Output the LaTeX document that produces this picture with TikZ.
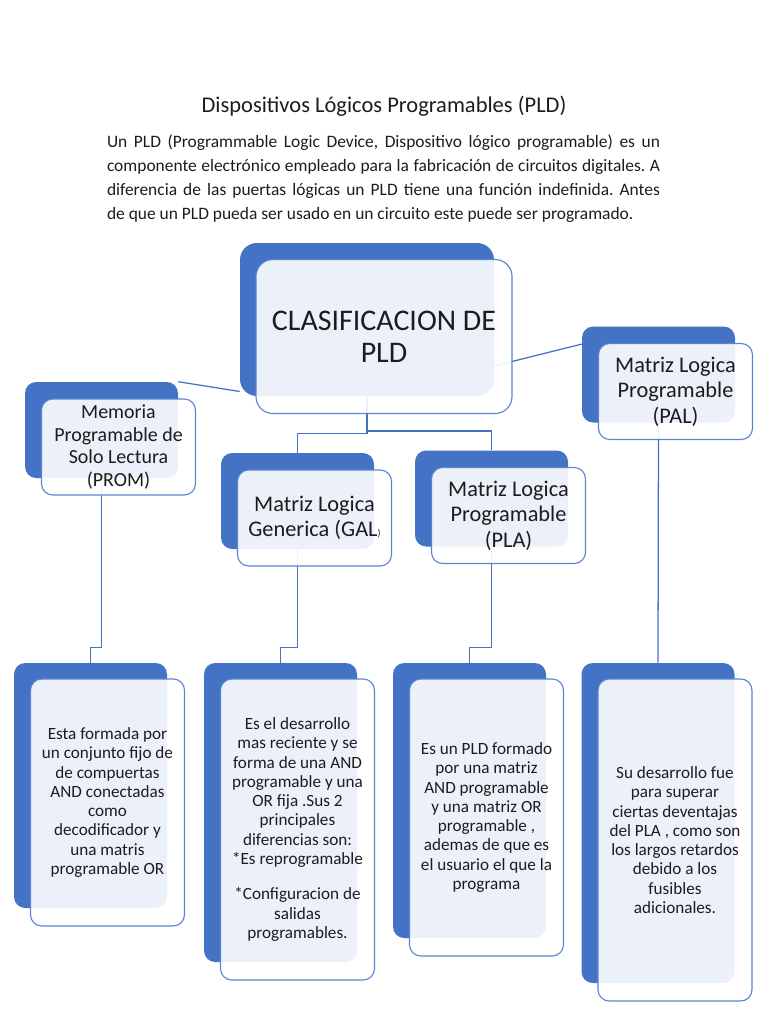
\documentclass[tikz,border=0pt]{standalone}
\usepackage{fontspec}
\setmainfont{Carlito}
\usepackage{xcolor}
\usetikzlibrary{backgrounds,positioning}
\definecolor{pldBlue}{HTML}{4472C4}
\definecolor{pldEdge}{HTML}{5A85D0}
\definecolor{pldInk}{HTML}{1C1C1C}
\frenchspacing
\tikzset{
  pld diagram/.style={font=\fontsize{12.2}{13.7}\selectfont, text=pldInk,
    line cap=round, line join=round},
  pld back/.style={fill=pldBlue, rounded corners=8pt, inner sep=0pt,
    minimum width=3.825cm, minimum height=2.4cm},
  pld front/.style={draw=pldEdge, fill=white, fill opacity=0.9, text opacity=1,
    line width=0.8pt, rounded corners=8pt, align=center, inner sep=0pt,
    minimum width=3.85cm, minimum height=2.4cm},
  pld item/.style={font=\fontsize{15.9}{18.1}\selectfont},
  pld link/.style={draw=pldBlue, line width=0.9pt}
}

\begin{document}
\begin{tikzpicture}[pld diagram]
\useasboundingbox (0,0) rectangle (19.2,-25.6);
% heading
\node[font=\fontsize{16}{19}\selectfont] (title) at (9.6,-2.65)
  {Dispositivos Lógicos Programables (PLD)};
\node[font=\fontsize{12.4}{17.1}\selectfont, text width=13.825cm, align=justify,
  inner sep=0pt] (intro) at (9.5875,-4.475)
  {Un PLD (Programmable Logic Device, Dispositivo lógico programable) es un\linebreak
   componente electrónico empleado para la fabricación de circuitos digitales. A\linebreak
   diferencia de las puertas lógicas un PLD tiene una función indefinida. Antes\linebreak
   de que un PLD pueda ser usado en un circuito este puede ser programado.};
% first level
\node[pld back, rounded corners=12pt, minimum width=6.35cm, minimum height=3.825cm]
  (main) at (9.175,-7.9875) {};
\node[pld front, rounded corners=12pt, minimum width=6.4cm, minimum height=3.85cm,
  font=\fontsize{21.3}{22.8}\selectfont] (main face) at ([shift={(0.425,-0.425)}]main)
  {CLASIFICACION DE\\PLD};
\node[pld back] (prom) at (2.5375,-10.75) {};
\node[pld front, font=\fontsize{14.2}{16}\selectfont] (prom face)
  at ([shift={(0.425,-0.425)}]prom) {Memoria\\Programable de\\Solo Lectura\\(PROM)};
\node[pld back] (gal) at (7.4375,-12.525) {};
\node[pld front, pld item] (gal face) at ([shift={(0.425,-0.425)}]gal)
  {Matriz Logica\\Generica (GAL{\fontsize{7}{7}\selectfont)}};
\node[pld back] (pla) at (12.2875,-12.4625) {};
\node[pld front, pld item] (pla face) at ([shift={(0.425,-0.425)}]pla)
  {Matriz Logica\\Programable\\(PLA)};
\node[pld back] (pal) at (16.4625,-9.3625) {};
\node[pld front, pld item] (pal face) at ([shift={(0.425,-0.425)}]pal)
  {Matriz Logica\\Programable\\(PAL)};
% descriptions
\node[pld back, minimum height=6.125cm] (prom note) at (2.2625,-19.6375) {};
\node[pld front, minimum height=6.175cm] (prom text) at ([shift={(0.425,-0.425)}]prom note)
  {Esta formada por\\un conjunto fijo de\\de compuertas\\AND conectadas\\como\\decodificador y\\una matris\\programable OR};
\node[pld back, minimum height=7.475cm] (gal note) at (7.0125,-20.3125) {};
\node[pld front, minimum height=7.525cm] (gal text) at ([shift={(0.425,-0.425)}]gal note)
  {Es el desarrollo\\mas reciente y se\\forma de una AND\\programable y una\\OR fija .Sus 2\\principales\\diferencias son:\\{}*Es reprogramable\\[0.4cm]{}*Configuracion de\\salidas\\programables.};
\node[pld back, minimum height=6.875cm] (pla note) at (11.7375,-20.0125) {};
\node[pld front, minimum height=6.925cm] (pla text) at ([shift={(0.425,-0.425)}]pla note)
  {Es un PLD formado\\por una matriz\\AND programable\\y una matriz OR\\programable ,\\ademas de que es\\el usuario el que la\\programa};
\node[pld back, minimum height=8cm] (pal note) at (16.45,-20.575) {};
\node[pld front, minimum height=8.05cm] (pal text) at ([shift={(0.425,-0.425)}]pal note)
  {Su desarrollo fue\\para superar\\ciertas deventajas\\del PLA , como son\\los largos retardos\\debido a los\\fusibles\\adicionales.};
% links
\begin{scope}[on background layer]
\draw[pld link] (prom.north east) -- ([yshift=0.12cm]main.south west);
\draw[pld link] ([yshift=-1.16cm]main.east) -- ([yshift=0.76cm]pal.west);
\draw[pld link] (main.south) |- ([yshift=0.48cm]gal.north) -- (gal.north);
\draw[pld link] (main.south) |- ([yshift=0.48cm]pla.north) -- (pla.north);
\draw[pld link] (prom.south) |- ([yshift=0.375cm]prom note.north) -- (prom note.north);
\draw[pld link] (gal.south) |- ([yshift=0.375cm]gal note.north) -- (gal note.north);
\draw[pld link] (pla.south) |- ([yshift=0.375cm]pla note.north) -- (pla note.north);
\draw[pld link] (pal.south) -- (pal note.north);
\end{scope}
\end{tikzpicture}
\end{document}
